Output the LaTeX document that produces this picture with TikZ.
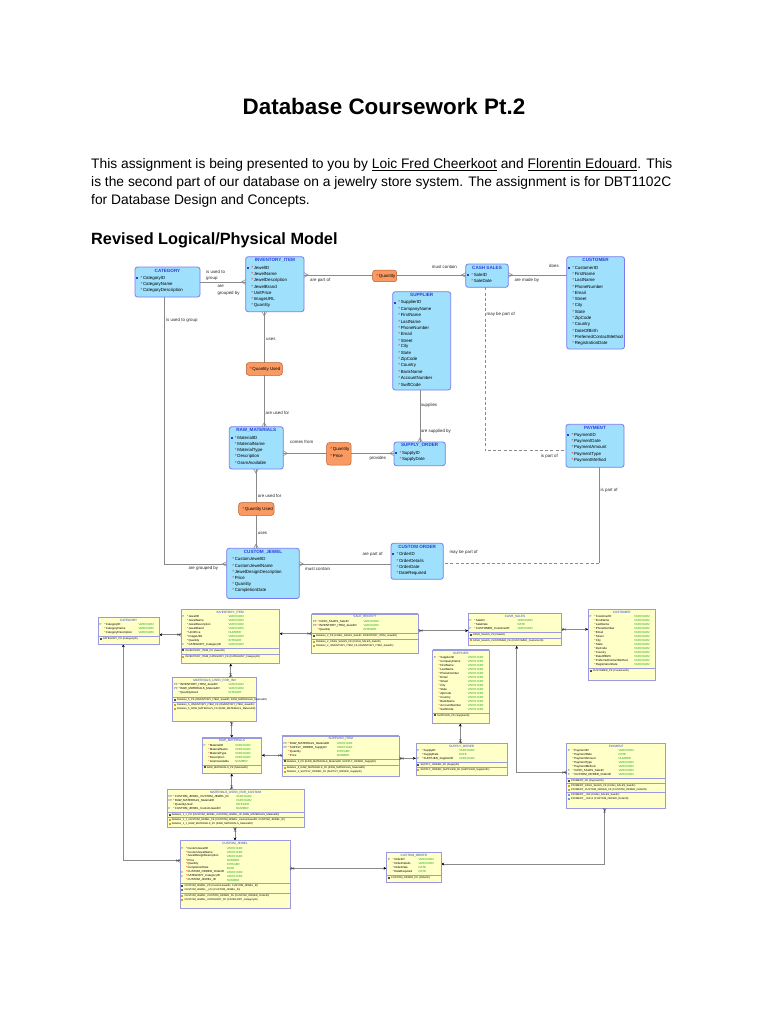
\documentclass[tikz,border=0pt]{standalone}
\usepackage{fontspec}
\setmainfont{Liberation Sans}
\usetikzlibrary{arrows.meta,calc}
\definecolor{lblue}{HTML}{9FE0FC}
\definecolor{lborder}{HTML}{7A7AF0}
\definecolor{ltitle}{HTML}{2A3FD8}
\definecolor{orfill}{HTML}{F89A62}
\definecolor{orborder}{HTML}{B85E30}
\definecolor{ptfill}{HTML}{FFFFC8}
\definecolor{ptborder}{HTML}{9A9AE0}
\definecolor{typegreen}{HTML}{22A822}
\definecolor{lineg}{HTML}{8A8A8A}
\definecolor{pkc}{HTML}{505050}
\definecolor{fkc}{HTML}{D8A020}
\definecolor{ukc}{HTML}{4A7FC0}
\definecolor{idxc}{HTML}{6A9AD0}
\tikzset{
  lentity/.style={draw=lborder, fill=lblue, rounded corners=2.5pt, line width=0.8pt, inner sep=0pt, outer sep=0pt},
  orbox/.style={draw=orborder, fill=orfill, rounded corners=2.5pt, line width=0.5pt, inner sep=0pt, outer sep=0pt},
  ltxt/.style={font=\fontsize{4.4}{5}\selectfont, inner sep=0pt, anchor=west},
  ltit/.style={font=\fontsize{4.6}{5}\selectfont\bfseries, text=ltitle, inner sep=0pt},
  lab/.style={font=\fontsize{4.4}{5}\selectfont, inner sep=0pt, anchor=west, text=black!85},
  conn/.style={draw=lineg, line width=0.6pt},
  ptabn/.style={draw=ptborder, fill=ptfill, line width=0.5pt, inner sep=0pt, outer sep=0pt},
  ptit/.style={font=\fontsize{3.1}{3.4}\selectfont, text=ltitle, inner sep=0pt},
  ptxt/.style={font=\fontsize{2.9}{3.2}\selectfont, inner sep=0pt, anchor=west},
  pftxt/.style={font=\fontsize{2.6}{3}\selectfont, inner sep=0pt, anchor=west},
  pconn/.style={draw=lineg, line width=0.6pt},
  arrs/.style={{Stealth[length=3.2pt,width=2.8pt,black]}-},
  arre/.style={-{Stealth[length=3.2pt,width=2.8pt,black]}},
  crow/.pic={\draw[lineg,line width=0.5pt] (0,-2.4) -- (-4.3,0) -- (0,2.4) (-4.3,0) -- (0,0);},
  pcrow/.pic={\draw[black!70,line width=0.4pt] (0,-1.6) -- (-3,0) -- (0,1.6) (-3,0) -- (0,0) (-3.8,-1.5) -- (-3.8,1.5);}
}
% logical entity: name x1 y1 x2 y2 title haspk rows
\newcommand\lent[8]{%
  \pgfmathsetmacro\boxw{#4-#2}\pgfmathsetmacro\boxh{#5-#3}%
  \node[lentity, minimum width=\boxw pt, minimum height=\boxh pt, anchor=north west] (#1) at (#2,#3) {};
  \node[ltit] (#1-t) at ({(#2+#4)/2},{#3+3.6}) {#6};
  \ifnum#7=1 \fill[ltitle] ({#2+1.3},{#3+10}) rectangle ++(2.1,2.1);\fi
  \foreach \a [count=\i] in {#8} {\node[ltxt] (#1-r\i) at ({#2+5.4},{#3+11+(\i-1)*6.3}) {\textcolor{red}{*}\,\a};}
}
% orange box: name x1 y1 x2 y2 firsty rows
\newcommand\orb[7]{%
  \pgfmathsetmacro\boxw{#4-#2}\pgfmathsetmacro\boxh{#5-#3}%
  \node[orbox, minimum width=\boxw pt, minimum height=\boxh pt, anchor=north west] (#1) at (#2,#3) {};
  \foreach \a [count=\i] in {#7} {\node[ltxt] (#1-r\i) at ({#2+3.5},{#6+(\i-1)*6.4}) {\textcolor{red!70!black}{*}\,\a};}
}
% physical table: name x1 y1 x2 y2 title typecol rows
\newcommand\ptab[8]{%
  \pgfmathsetmacro\boxw{#4-#2}\pgfmathsetmacro\boxh{#5-#3}%
  \node[ptabn, minimum width=\boxw pt, minimum height=\boxh pt, anchor=north west] (#1) at (#2,#3) {};
  \draw[ptborder, line width=1.1pt] (#1.north west) -- (#1.north east);
  \node[ptit] (#1-t) at ({(#2+#4)/2},{#3+3}) {#6};
  \foreach \rkey/\rname/\rtype [count=\i] in {#8} {%
    \node[ptxt,text=ltitle] (#1-k\i) at ({#2+1.2},{#3+7.5+(\i-1)*4}) {\rkey};
    \node[ptxt] (#1-n\i) at ({#2+5.8},{#3+7.5+(\i-1)*4}) {\textcolor{red}{*}\,\rname};
    \node[ptxt,text=typegreen] (#1-y\i) at ({#7},{#3+7.5+(\i-1)*4}) {\rtype};}
}
% physical section: prefix x1 x2 sepy list
\newcommand\psec[5]{%
  \draw[ptborder, line width=0.4pt] (#2,#4) -- (#3,#4);
  \foreach \icol/\itxt [count=\i] in {#5} {%
    \fill[\icol] ({#2+1.3},{#4+1.7+(\i-1)*4}) rectangle ++(2,2);
    \node[pftxt] (#1-\i) at ({#2+4.3},{#4+2.7+(\i-1)*4}) {\itxt};}
}
\begin{document}
\begin{tikzpicture}[x=1pt,y=-1pt]
\useasboundingbox[fill=white] (0,0) rectangle (768,1024);

% ---------- text ----------
\node[anchor=base, font=\fontsize{22.4}{26}\selectfont\bfseries, inner sep=0pt] (title) at (384,115) {Database Coursework Pt.2};
\node[anchor=base west, font=\fontsize{13.8}{16}\selectfont, inner sep=0pt] (p1) at (91,168.7) {This assignment is being presented to you by \underline{Loic Fred Cheerkoot} and \underline{Florentin Edouard}. This};
\node[anchor=base west, font=\fontsize{13.8}{16}\selectfont, inner sep=0pt] (p2) at (91,186.5) {is the second part of our database on a jewelry store system. The assignment is for DBT1102C};
\node[anchor=base west, font=\fontsize{13.8}{16}\selectfont, inner sep=0pt] (p3) at (91,204.8) {for Database Design and Concepts.};
\node[anchor=base west, font=\fontsize{16.3}{20}\selectfont\bfseries, inner sep=0pt] (head) at (91,244) {Revised Logical/Physical Model};

% ---------- logical model: connectors ----------
\draw[conn] (164.3,297) |- (226.7,564);
\draw[conn] (200,282) -- (245.7,282);
\draw[conn] (304,275) -- (372.7,275);
\draw[conn] (396.7,275) -- (465.7,275);
\draw[conn] (508.3,275) -- (566.7,275);
\draw[conn, dash pattern=on 3pt off 2.2pt] (485,287.3) |- (566,450.7);
\draw[conn] (420,390) -- (420,442);
\coordinate (k7) at (599,563.3);
\draw[conn] (599,467.3) -- (k7);
\draw[conn, dash pattern=on 3pt off 2.2pt] (k7) -- (443.3,563.3);
\draw[conn] (299.3,564) -- (391,564);
\draw[conn] (264.3,311.7) -- (264.3,362.7);
\draw[conn] (264.3,375.3) -- (264.3,426.7);
\draw[conn] (283.3,453.3) -- (326.7,453.3);
\draw[conn] (351,453.3) -- (394,453.3);
\draw[conn] (256,469) -- (256,502.7);
\draw[conn] (256,515.3) -- (256,548.3);

% ---------- logical model: entities ----------
\lent{cat}{135}{267}{200}{297}{CATEGORY}{1}{CategoryID, CategoryName, CategoryDescription}
\lent{inv}{245.7}{256.7}{304}{311.7}{INVENTORY\_ITEM}{1}{JewelID, JewelName, JewelDescription, JewelBrand, UnitPrice, ImageURL, Quantity}
\lent{cs}{465.7}{264}{508.3}{287.3}{CASH SALES}{1}{SaleID, SaleDate}
\lent{cust}{566.7}{256.7}{624.5}{349}{CUSTOMER}{1}{CustomerID, FirstName, LastName, PhoneNumber, Email, Street, City, State, ZipCode, Country, DateOfBirth, PreferredContactMethod, RegistrationDate}
\lent{sup}{392.7}{291.7}{450.7}{390}{SUPPLIER}{1}{SupplierID, CompanyName, FirstName, LastName, PhoneNumber, Email, Street, City, State, ZipCode, Country, BankName, AccountNumber, SwiftCode}
\lent{so}{394}{442}{445.3}{465.7}{SUPPLY\_ORDER}{1}{SupplyID, SupplyDate}
\lent{pay}{566}{424.3}{624}{467.3}{PAYMENT}{1}{PaymentID, PaymentDate, PaymentAmount, PaymentType, PaymentMethod}
\lent{co}{391}{543.3}{443.3}{579.3}{CUSTOM ORDER}{1}{OrderID, OrderDetails, OrderDate, DateRequired}
\lent{rm}{229.3}{426.7}{283.3}{469}{RAW\_MATERIALS}{1}{MaterialID, MaterialName, MaterialType, Description, GramAvailable}
\lent{cj}{226.7}{548.3}{299.3}{598.5}{CUSTOM\_JEWEL}{0}{CustomJewelID, CustomJewelName, JewelDesignDescription, Price, Quantity, CompletionDate}
\orb{oq}{372.7}{270.2}{396.7}{281.7}{276}{Quantity}
\orb{qu1}{246.3}{362.7}{282.3}{375.3}{369}{Quantity Used}
\orb{qp}{326.7}{442.7}{351}{465}{449.3}{Quantity, Price}
\orb{qu2}{238.7}{502.7}{274}{515.3}{509}{Quantity Used}

% crow's feet (logical)
\pic at (inv.west |- 0,282) {crow};
\pic[rotate=180] at (inv.east |- 0,275) {crow};
\pic at (cs.west |- 0,275) {crow};
\pic[rotate=180] at (cs.east |- 0,275) {crow};
\pic[rotate=-90] at (so.north -| 420,0) {crow};
\pic[rotate=180] at (cj.east |- 0,564) {crow};
\pic at (cj.west |- 0,564) {crow};
\pic[rotate=90] at (inv.south -| 264.3,0) {crow};
\pic[rotate=-90] at (rm.north -| 264.3,0) {crow};
\pic[rotate=180] at (rm.east |- 0,453.3) {crow};
\pic at (so.west |- 0,453.3) {crow};
\pic[rotate=90] at (rm.south -| 256,0) {crow};
\pic[rotate=-90] at (cj.north -| 256,0) {crow};

% labels (logical)
\node[lab] (lb1) at (206,272.3) {is used to};
\node[lab] (lb2) at (206,278.3) {group};
\node[lab] (lb3) at (217.3,286.7) {are};
\node[lab] (lb4) at (217.3,293.3) {grouped by};
\node[lab] (lb5) at (310,280.7) {are part of};
\node[lab] (lb6) at (431.7,267.3) {must contain};
\node[lab] (lb7) at (549,265.7) {does};
\node[lab] (lb8) at (514.3,280.7) {are made by};
\node[lab] (lb9) at (486.5,314) {may be part of};
\node[lab] (lb10) at (540.7,456) {is part of};
\node[lab] (lb11) at (420.8,405) {supplies};
\node[lab] (lb12) at (420.8,431.7) {are supplied by};
\node[lab] (lb13) at (600.5,490) {is part of};
\node[lab] (lb14) at (449.3,552.7) {may be part of};
\node[lab] (lb15) at (305,569) {must contain};
\node[lab] (lb16) at (362.3,554.7) {are part of};
\node[lab] (lb17) at (166,320.7) {is used to group};
\node[lab] (lb18) at (188.3,568.3) {are grouped by};
\node[lab] (lb19) at (266,339) {uses};
\node[lab] (lb20) at (265.5,413.3) {are used for};
\node[lab] (lb21) at (290,442.3) {comes from};
\node[lab] (lb22) at (369.3,458.3) {provides};
\node[lab] (lb23) at (257.7,495.7) {are used for};
\node[lab] (lb24) at (257.7,533.3) {uses};

% ---------- physical model: connectors ----------
\draw[pconn, arrs] (159,634.7) -- (181,634.7);
\draw[pconn, arrs] (279.3,633.7) -- (311.7,633.7);
\draw[pconn, arre] (418.3,630.7) -- (468.3,630.7);
\draw[pconn, arre] (561.7,629.3) -- (588.3,629.3);
\draw[pconn, arrs] (516.7,645.7) |- (566.7,772.3);
\draw[pconn, arrs] (230.7,663.3) -- (230.7,677.3);
\draw[pconn, arre] (231.7,721.7) -- (231.7,738);
\draw[pconn, arrs] (261.7,755.3) -- (282.3,755.3);
\draw[pconn, arre] (399.3,758.3) -- (416,758.3);
\draw[pconn, arre] (460.3,743.3) -- (460.3,723.3);
\draw[pconn, arrs] (231.7,773.3) -- (231.7,789.3);
\draw[pconn, arre] (235,827.3) -- (235,840.7);
\draw[pconn, arrs] (123.3,644) |- (180,860.7);
\draw[pconn, arre] (290,868.3) -- (386.7,868.3);
\draw[pconn, arrs] (441,864) -| (604.7,808.3);

% ---------- physical model: tables ----------
\ptab{pcat}{98.3}{617.3}{159}{644}{CATEGORY}{138.3}{P/CategoryID/VARCHAR2, /CategoryName/VARCHAR2, /CategoryDescription/VARCHAR2}
\psec{pcat-a}{98.3}{159}{636}{pkc/CATEGORY\_PK (CategoryID)}

\ptab{pinv}{181}{609.3}{279.3}{663.3}{INVENTORY\_ITEM}{228.3}{P/JewelID/VARCHAR2, /JewelName/VARCHAR2, /JewelDescription/VARCHAR2, /JewelBrand/VARCHAR2, /UnitPrice/NUMBER, /ImageURL/VARCHAR2, /Quantity/INTEGER, F/CATEGORY\_CategoryID/VARCHAR2}
\psec{pinv-a}{181}{279.3}{647.7}{pkc/INVENTORY\_ITEM\_PK (JewelID)}
\psec{pinv-b}{181}{279.3}{654}{fkc/INVENTORY\_ITEM\_CATEGORY\_FK (CATEGORY\_CategoryID)}

\ptab{psr}{311.7}{614}{418.3}{653.3}{SALE\_RECEIPT}{363.3}{PF/CASH\_SALES\_SaleID/VARCHAR2, PF/INVENTORY\_ITEM\_JewelID/VARCHAR2, /Quantity/INTEGER}
\psec{psr-a}{311.7}{418.3}{633}{pkc/Relation\_2\_PK (CASH\_SALES\_SaleID{,} INVENTORY\_ITEM\_JewelID)}
\psec{psr-b}{311.7}{418.3}{639.5}{fkc/Relation\_2\_CASH\_SALES\_FK (CASH\_SALES\_SaleID), fkc/Relation\_2\_INVENTORY\_ITEM\_FK (INVENTORY\_ITEM\_JewelID)}

\ptab{pcs}{468.3}{613.3}{561.7}{645.7}{CASH\_SALES}{517.3}{P/SaleID/VARCHAR2, /SaleDate/DATE, F/CUSTOMER\_CustomerID/VARCHAR2}
\psec{pcs-a}{468.3}{561.7}{632.3}{pkc/CASH\_SALES\_PK (SaleID)}
\psec{pcs-b}{468.3}{561.7}{637.7}{fkc/CASH\_SALES\_CUSTOMER\_FK (CUSTOMER\_CustomerID)}

\ptab{pcust}{588.3}{609.3}{655}{680}{CUSTOMER}{634}{P/CustomerID/VARCHAR2, /FirstName/VARCHAR2, /LastName/VARCHAR2, /PhoneNumber/VARCHAR2, /Email/VARCHAR2, /Street/VARCHAR2, /City/VARCHAR2, /State/VARCHAR2, /ZipCode/VARCHAR2, /Country/VARCHAR2, /DateOfBirth/VARCHAR2, /PreferredContactMethod/VARCHAR2, /RegistrationDate/VARCHAR2}
\psec{pcust-a}{588.3}{655}{668.3}{pkc/CUSTOMER\_PK (CustomerID)}

\ptab{psup}{432.7}{650}{489}{723.3}{SUPPLIER}{467.7}{P/SupplierID/VARCHAR2, /CompanyName/VARCHAR2, /FirstName/VARCHAR2, /LastName/VARCHAR2, /PhoneNumber/VARCHAR2, /Email/VARCHAR2, /Street/VARCHAR2, /City/VARCHAR2, /State/VARCHAR2, /ZipCode/VARCHAR2, /Country/VARCHAR2, /BankName/VARCHAR2, /AccountNumber/VARCHAR2, /SwiftCode/VARCHAR2}
\psec{psup-a}{432.7}{489}{712.7}{pkc/SUPPLIER\_PK (SupplierID)}

\ptab{pmui}{172.7}{677.3}{256.7}{721.7}{MATERIALS\_USED\_FOR\_INV}{228.3}{PF/INVENTORY\_ITEM\_JewelID/VARCHAR2, PF/RAW\_MATERIALS\_MaterialID/VARCHAR2, /QuantityUsed/INTEGER}
\psec{pmui-a}{172.7}{256.7}{697.3}{pkc/Relation\_5\_PK (INVENTORY\_ITEM\_JewelID{,} RAW\_MATERIALS\_MaterialID)}
\psec{pmui-b}{172.7}{256.7}{702.5}{fkc/Relation\_5\_INVENTORY\_ITEM\_FK (INVENTORY\_ITEM\_JewelID), fkc/Relation\_5\_RAW\_MATERIALS\_FK (RAW\_MATERIALS\_MaterialID)}

\ptab{prm}{202.3}{738}{261.7}{773.3}{RAW\_MATERIALS}{235}{P/MaterialID/VARCHAR2, /MaterialName/VARCHAR2, /MaterialType/VARCHAR2, /Description/VARCHAR2, /GramAvailable/NUMBER}
\psec{prm-a}{202.3}{261.7}{764.7}{pkc/RAW\_MATERIALS\_PK (MaterialID)}

\ptab{psi}{282.3}{736}{399.3}{776}{SUPPLIED\_ITEM}{336.7}{PF/RAW\_MATERIALS\_MaterialID/VARCHAR2, PF/SUPPLY\_ORDER\_SupplyID/VARCHAR2, /Quantity/INTEGER, /Price/NUMBER}
\psec{psi-a}{282.3}{399.3}{758.7}{pkc/Relation\_3\_PK (RAW\_MATERIALS\_MaterialID{,} SUPPLY\_ORDER\_SupplyID)}
\psec{psi-b}{282.3}{399.3}{765.3}{fkc/Relation\_3\_RAW\_MATERIALS\_FK (RAW\_MATERIALS\_MaterialID), fkc/Relation\_3\_SUPPLY\_ORDER\_FK (SUPPLY\_ORDER\_SupplyID)}

\ptab{pso}{416}{743.3}{507.3}{775}{SUPPLY\_ORDER}{459}{P/SupplyID/VARCHAR2, /SupplyDate/DATE, F/SUPPLIER\_SupplierID/VARCHAR2}
\psec{pso-a}{416}{507.3}{762}{pkc/SUPPLY\_ORDER\_PK (SupplyID)}
\psec{pso-b}{416}{507.3}{767.5}{fkc/SUPPLY\_ORDER\_SUPPLIER\_FK (SUPPLIER\_SupplierID)}

\ptab{ppay}{566.7}{743.3}{665.7}{808.3}{PAYMENT}{618.3}{P/PaymentID/VARCHAR2, /PaymentDate/DATE, /PaymentAmount/NUMBER, /PaymentType/VARCHAR2, /PaymentMethod/VARCHAR2, F/CASH\_SALES\_SaleID/VARCHAR2, F/CUSTOM\_ORDER\_OrderID/VARCHAR2}
\psec{ppay-a}{566.7}{665.7}{778.3}{pkc/PAYMENT\_PK (PaymentID)}
\psec{ppay-b}{566.7}{665.7}{783.5}{fkc/PAYMENT\_CASH\_SALES\_FK (CASH\_SALES\_SaleID), fkc/PAYMENT\_CUSTOM\_ORDER\_FK (CUSTOM\_ORDER\_OrderID)}
\psec{ppay-c}{566.7}{665.7}{792.5}{idxc/PAYMENT\_\_IDX (CASH\_SALES\_SaleID), idxc/PAYMENT\_\_IDXv1 (CUSTOM\_ORDER\_OrderID)}

\ptab{pmuc}{167.3}{789.3}{304}{827.3}{MATERIALS\_USED\_FOR\_CUSTOM}{236}{PF/CUSTOM\_JEWEL\_CUSTOM\_JEWEL\_ID/VARCHAR2, PF/RAW\_MATERIALS\_MaterialID/VARCHAR2, /QuantityUsed/INTEGER, F/CUSTOM\_JEWEL\_CustomJewelID/NUMBER}
\psec{pmuc-a}{167.3}{304}{811.8}{pkc/Relation\_1\_1\_PK (CUSTOM\_JEWEL\_CUSTOM\_JEWEL\_ID{,} RAW\_MATERIALS\_MaterialID)}
\psec{pmuc-b}{167.3}{304}{817.3}{fkc/Relation\_1\_1\_CUSTOM\_JEWEL\_FK (CUSTOM\_JEWEL\_CustomJewelID{,} CUSTOM\_JEWEL\_ID), fkc/Relation\_1\_1\_RAW\_MATERIALS\_FK (RAW\_MATERIALS\_MaterialID)}

\ptab{pcj}{180}{840.7}{290}{908.3}{CUSTOM\_JEWEL}{226.7}{P/CustomJewelID/VARCHAR2, /CustomJewelName/VARCHAR2, /JewelDesignDescription/VARCHAR2, /Price/NUMBER, /Quantity/INTEGER, /CompletionDate/DATE, F/CUSTOM\_ORDER\_OrderID/VARCHAR2, F/CATEGORY\_CategoryID/VARCHAR2, /CUSTOM\_JEWEL\_ID/NUMBER}
\psec{pcj-a}{180}{290}{883.3}{pkc/CUSTOM\_JEWEL\_PK (CustomJewelID{,} CUSTOM\_JEWEL\_ID), ukc/CUSTOM\_JEWEL\_\_UN (CUSTOM\_JEWEL\_ID)}
\psec{pcj-b}{180}{290}{892.8}{fkc/CUSTOM\_JEWEL\_CUSTOM\_ORDER\_FK (CUSTOM\_ORDER\_OrderID), fkc/CUSTOM\_JEWEL\_CATEGORY\_FK (CATEGORY\_CategoryID)}

\ptab{pco}{386.7}{852.3}{441}{882.3}{CUSTOM\_ORDER}{418.3}{P/OrderID/VARCHAR2, /OrderDetails/VARCHAR2, /OrderDate/DATE, /DateRequired/DATE}
\psec{pco-a}{386.7}{441}{875}{pkc/CUSTOM\_ORDER\_PK (OrderID)}

% crow marks (physical)
\pic at (pinv.west |- 0,634.7) {pcrow};
\pic at (psr.west |- 0,633.7) {pcrow};
\pic[rotate=180] at (psr.east |- 0,630.7) {pcrow};
\pic[rotate=180] at (pcs.east |- 0,629.3) {pcrow};
\pic at (ppay.west |- 0,772.3) {pcrow};
\pic[rotate=-90] at (pmui.north -| 230.7,0) {pcrow};
\pic[rotate=90] at (pmui.south -| 231.7,0) {pcrow};
\pic at (psi.west |- 0,755.3) {pcrow};
\pic[rotate=180] at (psi.east |- 0,758.3) {pcrow};
\pic[rotate=-90] at (pso.north -| 460.3,0) {pcrow};
\pic[rotate=-90] at (pmuc.north -| 231.7,0) {pcrow};
\pic[rotate=90] at (pmuc.south -| 235,0) {pcrow};
\pic at (pcj.west |- 0,860.7) {pcrow};
\pic[rotate=180] at (pcj.east |- 0,868.3) {pcrow};
\pic[rotate=90] at (ppay.south -| 604.7,0) {pcrow};
\end{tikzpicture}
\end{document}
